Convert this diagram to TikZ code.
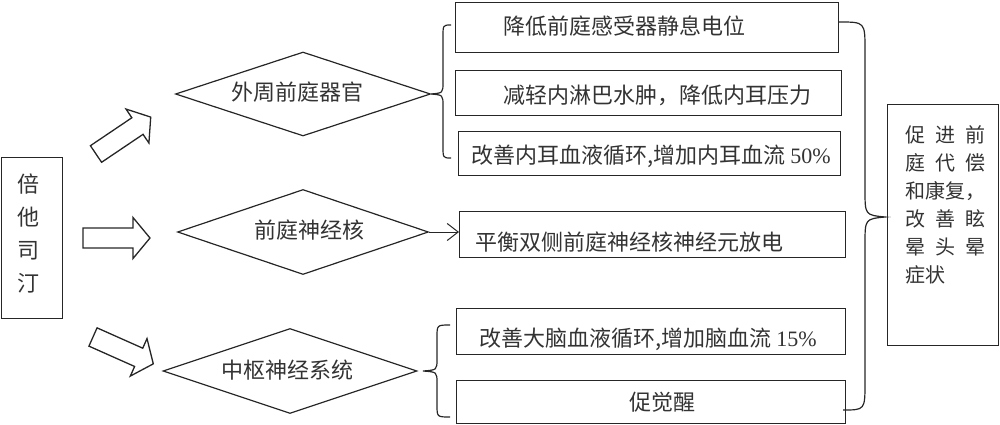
\documentclass[tikz,border=0pt]{standalone}
\usepackage{fontspec}
\setmainfont{Noto Sans CJK SC}
\newfontfamily\latser{Liberation Serif}
\usetikzlibrary{shapes.geometric,arrows.meta}
\definecolor{lc}{HTML}{262626}
\definecolor{tc}{HTML}{333333}
\newcommand\myfs{\fontsize{22}{26}\selectfont}
\newcommand\resfs{\fontsize{20}{28}\selectfont}
\begin{document}
\begin{tikzpicture}[x=1pt,y=-1pt,
  ln/.style={draw=lc, line width=1.2pt},
  box/.style={rectangle, draw=lc, line width=1.3pt, inner sep=0pt, anchor=north west},
  dia/.style={diamond, draw=lc, line width=1.2pt, aspect=3, inner sep=0pt},
  txt/.style={text=tc, font=\myfs, inner sep=0pt},
  barrow/.style={draw=lc, line width=1.3pt, line join=miter}]
\useasboundingbox (0,0) rectangle (1000,425);

% left drug box
\node[box, minimum width=61pt, minimum height=161pt] (drug) at (1,157) {};
\node[txt, align=center, font=\fontsize{22}{33}\selectfont] (drugt) at (28,233) {倍\\他\\司\\汀};

% block arrows
\begin{scope}[shift={(96,154)}, rotate=34]
  \draw[barrow] (0,10) -- (50,10) -- (50,20.5) -- (66,0) -- (50,-20.5) -- (50,-10) -- (0,-10) -- cycle;
\end{scope}
\begin{scope}[shift={(83,238)}]
  \draw[barrow] (0,10) -- (50,10) -- (50,20.5) -- (67,0) -- (50,-20.5) -- (50,-10) -- (0,-10) -- cycle;
\end{scope}
\begin{scope}[shift={(93,337)}, rotate=-24]
  \draw[barrow] (0,10) -- (50,10) -- (50,20.5) -- (66,0) -- (50,-20.5) -- (50,-10) -- (0,-10) -- cycle;
\end{scope}

% diamonds
\node[dia, minimum width=255pt, minimum height=84pt] (d1) at (303,94) {};
\node[txt] (d1t) at (297,92) {外周前庭器官};
\node[dia, minimum width=251pt, minimum height=85pt] (d2) at (303,232) {};
\node[txt] (d2t) at (309,230) {前庭神经核};
\node[dia, minimum width=254pt, minimum height=85pt] (d3) at (290,371) {};
\node[txt] (d3t) at (287,370) {中枢神经系统};

% effect boxes
\node[box, minimum width=383pt, minimum height=50pt] (b1) at (455,2) {};
\node[txt, anchor=west] (t1) at (503,26) {降低前庭感受器静息电位};
\node[box, minimum width=386pt, minimum height=45pt] (b2) at (455,70) {};
\node[txt, anchor=west] (t2) at (503,95) {减轻内淋巴水肿，降低内耳压力};
\node[box, minimum width=382pt, minimum height=44pt] (b3) at (458,131) {};
\node[txt] (t3) at (651,156) {改善内耳血液循环,增加内耳血流 {\latser 50\%}};
\node[box, minimum width=386pt, minimum height=46pt] (b4) at (459,211) {};
\node[txt, anchor=west] (t4) at (475,242) {平衡双侧前庭神经核神经元放电};
\node[box, minimum width=389pt, minimum height=46pt] (b5) at (456,308) {};
\node[txt] (t5) at (648,339) {改善大脑血液循环,增加脑血流 {\latser 15\%}};
\node[box, minimum width=389pt, minimum height=43pt] (b6) at (456,380) {};
\node[txt] (t6) at (662,402) {促觉醒};

% result box
\node[box, minimum width=111pt, minimum height=241pt] (res) at (887,104) {};
\node[txt, anchor=north west, text width=80pt, align=left, font=\resfs] (rest) at (905,125)
  {促\hfill 进\hfill 前\\庭\hfill 代\hfill 偿\\和康复，\\改\hfill 善\hfill 眩\\晕\hfill 头\hfill 晕\\症状};

% arrow d2 -> b4
\draw[ln, line width=1pt, -{Straight Barb[length=11pt,width=17pt,line width=1pt]}] (d2.east) -- (d2.east -| b4.west);

% braces
\draw[ln] (451,25) .. controls (443,25) .. (443,37) -- (443,82)
  .. controls (443,93) .. (431,94) .. controls (443,95) .. (443,106)
  -- (443,146) .. controls (443,158) .. (451,158);
\draw[ln] (450,325) .. controls (437,325) .. (437,337) -- (437,359)
  .. controls (437,370) .. (423,371) .. controls (437,372) .. (437,383)
  -- (437,405) .. controls (437,417) .. (450,417);
\draw[ln] (839,22) .. controls (865,22) .. (865,50) -- (865,190)
  .. controls (865,215) .. (885,217) .. controls (865,219) .. (865,244)
  -- (865,382) .. controls (865,410) .. (843,410);
\end{tikzpicture}
\end{document}
